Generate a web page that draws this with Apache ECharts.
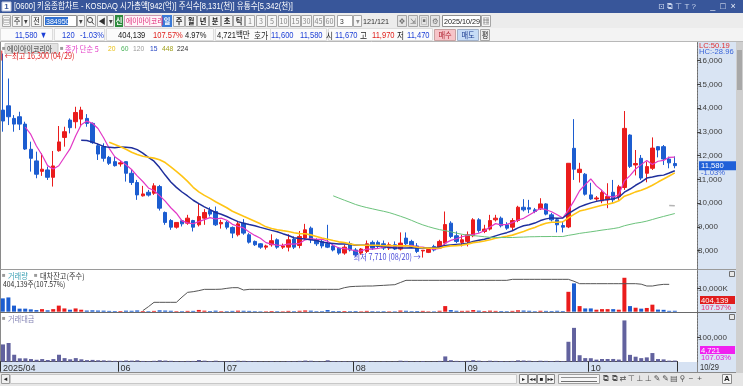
<!DOCTYPE html>
<html><head><meta charset="utf-8">
<script src="https://cdn.jsdelivr.net/npm/echarts@6/dist/echarts.min.js"></script>
<style>html,body{margin:0;padding:0;background:#fff;}#c{width:743px;height:386px;}</style>
</head><body><div id="c"></div>
<script>
// ---------- DATA ----------
const monthDays = [
  ['2025/04',[29,30]],
  ['2025/05',[2,7,8,9,12,13,14,15,16,19,20,21,22,23,26,27,28,29,30]],
  ['2025/06',[2,4,5,9,10,11,12,13,16,17,18,19,20,23,24,25,26,27,30]],
  ['2025/07',[1,2,3,4,7,8,9,10,11,14,15,16,17,18,21,22,23,24,25,28,29,30,31]],
  ['2025/08',[1,4,5,6,7,8,11,12,13,14,18,19,20,21,22,25,26,27,28,29]],
  ['2025/09',[1,2,3,4,5,8,9,10,11,12,15,16,17,18,19,22,23,24,25,26,29,30]],
  ['2025/10',[1,2,10,13,14,15,16,17,20,21,22,23,24,27,28,29]]
];
const open = [13920,14100,13570,13640,13330,12270,11780,11340,11400,11090,
12210,12770,13500,13430,13540,13570,13360,12420,12380,11930,
11750,11650,11750,11260,10870,10310,10460,10420,10700,9610,
9270,8990,9260,9160,9270,9090,9370,9690,9650,9130,
9190,8980,8670,9160,8670,8390,8290,8150,8250,8460,
8150,8150,8490,8220,8530,8950,8460,8390,8290,8200,
8110,7900,8290,8030,7900,7970,8350,8350,8290,8110,
8250,8070,8530,8390,8200,7990,7930,8180,8110,8320,
9160,8630,8350,8390,8630,9300,8810,8910,9300,9370,
9090,8990,9270,9830,9810,9720,9760,9970,9510,9300,
9060,9000,12310,11290,11220,10350,10180,10100,10140,10460,
10270,10660,12870,11610,11890,11260,11470,12380,12380,11860,
11670];
const high = [16300,15250,13710,13850,13430,12590,12170,12100,11540,12200,
13250,13220,13570,14060,14060,13750,13400,12520,12520,11990,
11960,11800,11750,11400,10980,10730,10560,10840,10770,9650,
9330,9190,9300,9510,9300,10000,9750,9830,9860,9300,
9250,9020,9250,9330,8740,8430,8320,8250,8690,8520,
8300,8690,8600,8830,9130,9020,8520,8460,9090,8290,
8150,8250,8390,8110,8110,8430,8430,8430,8430,8350,
8390,8770,8770,8460,8320,8020,8110,8250,8460,9650,
9240,8810,8670,8810,9370,9370,9090,9510,9510,9440,
9200,9370,9890,10170,10140,9800,10210,10000,9590,9370,
9240,11680,13540,11700,11270,10860,10300,10560,10840,10980,
10770,13880,12900,12240,12030,11750,12770,12400,12450,11960,
11970];
const low = [13010,13290,13010,13080,12240,11330,11050,11150,10980,10700,
12170,12380,12940,13150,13220,13220,12500,11820,11750,11610,
11540,11540,10910,10770,10140,10280,10280,10350,9690,9090,
8880,8930,9020,9090,8810,9020,9090,9440,9040,8930,
8900,8530,8600,8670,8300,8200,8080,8050,8170,8080,
8070,7970,8070,8100,8460,8320,8200,8100,8110,7970,
7830,7830,7970,7750,7830,7900,8030,8110,8030,8030,
8030,8010,8180,8110,7900,7710,7900,7970,8070,8250,
8530,8320,8180,8180,8570,8760,8740,8850,9230,8980,
8880,8850,9200,9650,9580,9580,9720,9490,9230,8770,
8770,8950,10980,10870,10320,10140,10100,10000,9790,10000,
10140,10560,11480,11170,10980,10880,11400,11930,11610,11470,
11470];
const close = [13460,13640,13330,13330,12280,11890,11220,11430,11090,11570,
12580,13010,13180,13820,13920,13360,12550,12070,11890,11680,
11580,11700,11260,10870,10350,10390,10340,10730,9790,9190,
8990,9190,9130,9370,8990,9440,9610,9540,9090,9190,
8990,8740,9130,8740,8360,8250,8150,8200,8420,8150,
8200,8460,8150,8600,8880,8460,8290,8200,8150,8030,
7900,8150,8030,7820,8070,8290,8110,8180,8110,8250,
8070,8320,8290,8180,7970,8020,8050,8030,8390,9100,
8600,8390,8460,8670,9300,8850,8910,9270,9370,9050,
8950,9270,9830,9720,9750,9650,9970,9540,9300,9090,
8990,11680,11430,11430,10380,10180,10220,10450,10280,10140,
10690,13150,11550,11670,11060,11540,12320,12240,11860,11700,
11580];
const volume = [5700000,6100000,2600000,1300000,1300000,1000000,700000,1100000,600000,1100000,
2600000,1400000,850000,1400000,850000,500000,600000,500000,450000,350000,
300000,300000,450000,400000,550000,300000,250000,350000,600000,500000,
400000,250000,250000,350000,350000,750000,450000,300000,450000,250000,
250000,350000,450000,400000,350000,250000,200000,200000,300000,250000,
200000,350000,250000,400000,550000,450000,250000,250000,700000,300000,
300000,300000,250000,300000,200000,350000,250000,200000,250000,200000,
200000,500000,400000,250000,300000,350000,200000,200000,400000,2400000,
700000,400000,350000,400000,700000,450000,300000,450000,350000,300000,
250000,350000,600000,500000,400000,250000,400000,350000,300000,400000,
300000,8500000,12100000,2400000,1400000,1400000,850000,1100000,1100000,1100000,
850000,14500000,2400000,1700000,1300000,1600000,3000000,900000,800000,375700,
404139];
const tradeValue = [72000,78000,29000,14000,14000,11000,8000,11000,7000,11000,
29000,15000,10000,15000,10000,6500,7500,6000,5500,4200,
3500,3500,5000,4400,5700,3100,2600,3700,6000,4700,
3600,2300,2300,3200,3200,7100,4300,2900,4200,2300,
2300,3100,4000,3600,3000,2100,1650,1650,2500,2100,
1650,2900,2100,3400,4800,3900,2100,2100,6000,2500,
2400,2400,2000,2400,1600,2900,2000,1650,2000,1650,
1650,4200,3300,2000,2400,2800,1600,1600,3300,22000,
6200,3400,2900,3400,6300,4100,2700,4100,3300,2800,
2300,3200,5700,4900,3900,2400,4000,3400,2800,3600,
2700,83000,141000,27000,15000,14500,8700,11300,11300,11400,
8900,172000,28500,20800,14800,18000,36000,11000,9700,4411,
4721];
const lendingK = ['-','-','-','-','-','-','-','-','-','-','-','-','-','-','-','-','-','-','-','-','-','-','-','-','-',
25,120,225,225,225,225,225,350,464,480,
505,536,536,536,540,560,576,576,520,536,
536,536,536,536,536,536,536,536,536,536,
536,536,536,536,536,536,576,600,608,612,
616,616,625,632,640,648,700,752,752,752,
752,752,752,752,752,752,752,752,752,752,
752,752,752,752,752,752,776,776,776,776,
776,776,776,776,776,776,776,730,672,672,
672,672,672,672,672,672,672,672,672,660,
616,616,640,656,656,'-'];
const priceTicks = [8000,9000,10000,11000,12000,13000,14000,15000,16000];
const volumeTicks = [10000000];
const valueTicks = [100000];
const maPeriods = [5,15,20,60,120];

// ---------- BUILD ----------
const dates = [];
monthDays.forEach(([m,ds]) => ds.forEach(d => dates.push(m + '/' + String(d).padStart(2,'0'))));
const monthStart = new Set([0]);
for (let i = 1; i < dates.length; i++) if (dates[i].slice(0,7) !== dates[i-1].slice(0,7)) monthStart.add(i);
monthStart.delete(2); // May label not drawn (too close to first label)

function sma(n){ return close.map((v,i)=>{ if(i<n-1) return '-'; let s=0; for(let k=i-n+1;k<=i;k++) s+=close[k]; return +(s/n).toFixed(1); }); }

const RED='#ea1c1c', BLUE='#1c5dd0';
const F="'Liberation Sans','DejaVu Sans','Noto Sans CJK KR',sans-serif";
const FK="'Noto Sans CJK KR','Liberation Sans',sans-serif";
const fmt = v => v.toLocaleString('en-US');

const GW = 677.6, AX_OFF = 697 - GW;
const chart = echarts.init(document.getElementById('c'), null, {renderer:'canvas'});

const maColors = {5:'#e238c6',15:'#1f2f9c',20:'#ffc414',60:'#6cc37c',120:'#b4b4b4'};
const maWidths = {5:1.2,15:1.5,20:1.6,60:1,120:1.5};

const option = {
  animation:false,
  backgroundColor:'#ffffff',
  grid:[
    {left:0,width:GW,top:42,height:227},
    {left:0,width:GW,top:270,height:41.7},
    {left:0,width:GW,top:313,height:48.7}
  ],
  xAxis:[0,1,2].map(g=>({
    type:'category', gridIndex:g, data:dates, boundaryGap:true, show:g===2,
    axisLine:{show:g===2,lineStyle:{color:'#505050'}},
    axisTick:{show:g===2,length:10,interval:(i)=>monthStart.has(i),lineStyle:{color:'#303030'}},
    axisLabel:{show:g===2,interval:(i)=>monthStart.has(i),align:'left',margin:2,fontSize:9,fontFamily:F,color:'#303030',
      formatter:(v,i)=> i===0 ? v.slice(0,7) : v.slice(5,7)},
    splitLine:{show:false}
  })),
  yAxis:[
    {type:'value',gridIndex:0,position:'right',offset:AX_OFF,min:7229.5,max:16787,
     splitLine:{show:false},
     axisLine:{show:true,lineStyle:{color:'#6a6a6a',type:[1,2]}},
     axisTick:{show:true,length:3,customValues:priceTicks,lineStyle:{color:'#404040'}},
     axisLabel:{customValues:priceTicks,formatter:v=>fmt(v),color:'#404040',fontSize:8,fontFamily:F,margin:1}},
    {type:'value',gridIndex:1,position:'right',offset:AX_OFF,min:0,max:17820000,
     splitLine:{show:false},
     axisLine:{show:true,lineStyle:{color:'#6a6a6a',type:[1,2]}},
     axisTick:{show:true,length:3,customValues:volumeTicks,lineStyle:{color:'#404040'}},
     axisLabel:{customValues:volumeTicks,formatter:v=>fmt(v/1000)+'K',color:'#404040',fontSize:8,fontFamily:F,margin:1}},
    {type:'value',gridIndex:1,min:0,max:1000,show:false},
    {type:'value',gridIndex:2,position:'right',offset:AX_OFF,min:0,max:202900,
     splitLine:{show:false},
     axisLine:{show:true,lineStyle:{color:'#6a6a6a',type:[1,2]}},
     axisTick:{show:true,length:3,customValues:valueTicks,lineStyle:{color:'#404040'}},
     axisLabel:{customValues:valueTicks,formatter:v=>fmt(v),color:'#404040',fontSize:8,fontFamily:F,margin:1}}
  ],
  series:[
    {type:'candlestick',xAxisIndex:0,yAxisIndex:0,barWidth:4,z:2,
     data:dates.map((d,i)=>[open[i],close[i],low[i],high[i]]),
     itemStyle:{color:RED,color0:BLUE,borderColor:RED,borderColor0:BLUE,borderWidth:1}},
    ...maPeriods.map(n=>({type:'line',xAxisIndex:0,yAxisIndex:0,data:sma(n),showSymbol:false,symbol:'none',z:3,
      lineStyle:{color:maColors[n],width:maWidths[n]}})),
    {type:'bar',xAxisIndex:1,yAxisIndex:1,barWidth:4,z:2,
     data:volume.map((v,i)=>({value:v,itemStyle:{color: close[i]>=open[i]?RED:BLUE}}))},
    {type:'line',xAxisIndex:1,yAxisIndex:2,data:lendingK,showSymbol:false,symbol:'none',z:3,
     lineStyle:{color:'#555555',width:1}},
    {type:'bar',xAxisIndex:2,yAxisIndex:3,barWidth:4,z:2,data:tradeValue,itemStyle:{color:'#62629e'}}
  ]
};
chart.setOption(option);

// ---------- CHROME / ANNOTATIONS ----------
const els=[];
const R=(x,y,w,h,fill,stroke,z)=>els.push({type:'rect',silent:true,z:(z===undefined?-5:z),shape:{x,y,width:w,height:h},
  style:{fill:fill||'none',stroke:stroke||'none',lineWidth:1}});
const T=(x,y,s,fill,size,align,font,weight,z,sx)=>els.push({type:'text',silent:true,z:(z===undefined?30:z),x,y,
  scaleX:(sx===undefined?((font||F)===FK?0.9:0.84):sx),
  style:{text:s,fill:fill||'#222',font:`${weight||'normal'} ${size||9}px ${font||F}`,textAlign:align||'left',textVerticalAlign:'middle',align:align||'left',verticalAlign:'middle'}});
const L=(x1,y1,x2,y2,stroke,w,z)=>els.push({type:'line',silent:true,z:(z===undefined?25:z),shape:{x1,y1,x2,y2},style:{stroke,lineWidth:w||1}});

// backgrounds
R(0,42,697,320,'#ffffff',null,-20);
R(697,42,39,331,'#d9e4f3',null,-20);
R(736,42,7,331,'#cfcfcf',null,-20);
R(737,50,5,40,'#a8a8a8',null,-19);
L(0.5,42,0.5,362,'#8a8a8a',1,-15);
L(697.5,42,697.5,373,'#8a8a8a',1,-15);
L(0,269.5,736,269.5,'#9a9a9a',1,-15);
L(0,312.5,736,312.5,'#6a6a6a',1,-15);
// date strip
R(0,362,697,11,'#d6e2f3',null,-20);
L(0,372.5,736,372.5,'#8a8a8a',1,-15);
T(700,367.5,'10/29','#303030',9,'left');

// title bar
R(0,0,743,13,'#38569a',null,40);
R(2,2,9,9,'#ffffff','#c0c8e0',41);
T(6.5,6.8,'1','#38569a',8,'center',F,'bold',42,1);
T(14,6.8,'[0600] 키움종합차트 - KOSDAQ 시가총액[942(억)] 주식수[8,131(천)] 유통수[5,342(천)]','#ffffff',9,'left',F,'normal',42,0.84);
T(677,6.8,'⊡ ⧉ ⊤ T ?','#c8d4ec',8,'center',F,'normal',42,1);
T(723,6.8,'_  □  ×','#e8eef8',9,'center',F,'normal',42,1);

// toolbar
R(0,13,743,15,'#ececec',null,40);
const btn=(x,w,label,color,fill,bold)=>{R(x+0.5,15.5,w,11,fill||'#f6f6f6','#a6a6a6',41); if(label) T(x+0.5+w/2,21.3,label,color||'#202020',8,'center',FK,bold?'bold':'normal',42);};
btn(2,8,'▤','#404040');
btn(12,9,'주');
btn(22,7,'▾','#404040');
btn(31,10,'전');
R(43.5,15.5,33,11,'#ffffff','#8f8f8f',41); R(45,17,23,8,'#2f6fd0',null,42); T(46,21.3,'384950','#ffffff',8,'left',F,'normal',43,0.88);
btn(77,7,'▾','#404040');
btn(86,9,'',null); els.push({type:'circle',silent:true,z:43,shape:{cx:90,cy:20,r:2.5},style:{fill:'none',stroke:'#404040',lineWidth:1}}); L(92,22,94,24.5,'#404040',1,43);
btn(97,9,'◀','#303030'); btn(107,6,'▾','#404040');
R(115,15,8,12,'#2e8b3e',null,41); T(119,21.3,'신','#ffffff',8,'center',FK,'bold',42);
R(124.5,15.5,37,11,'#fff4f8','#c898b0',41); T(126,21.3,'에이아이코리','#e0287a',8,'left',FK,'normal',42,0.85);
R(162,15,10,12,'#3a7ad8',null,41); T(167,21.3,'일','#ffffff',8,'center',FK,'bold',42);
['주','월','년','분','초','틱'].forEach((s,k)=>btn(173+k*12,11,s,'#202020','#f3f3f3',true));
[['1',245,9],['3',256,9],['5',267,9],['10',278,10],['15',290,10],['30',301,10],['45',313,10],['60',324,10]].forEach(([s,x,w])=>btn(x,w,s,'#8a8a8a'));
R(337.5,15.5,15,11,'#ffffff','#a6a6a6',41); T(340,21.3,'3','#303030',8,'left',F,'normal',42);
btn(353,8,'▾','#909090');
T(363,21.3,'121/121','#303030',8,'left',F,'normal',42,0.9);
[397,408,419,430].forEach((x,k)=>btn(x,9,['✥','⇲','▣','⚙'][k],'#707070','#e4e4e4'));
R(442.5,15.5,38,11,'#ffffff','#8f8f8f',41); T(444,21.3,'2025/10/29','#202020',8,'left',F,'normal',42,0.9);
btn(481,9,'▦','#505050');

// info row
R(0,28,743,14,'#f3f3f3',null,40);
L(0,41.5,743,41.5,'#b8b8b8',1,41);
[[0,52],[54,50],[106,107],[215,56],[270,56],[328,104]].forEach(([x,w])=>R(x+0.5,28.5,w,12,'#fbfbfb','#dcdcdc',41));
const IY=35.2;
T(15,IY,'11,580 ▼','#1c3fd6',9,'left',F,'normal',42);
T(62,IY,'120','#1c3fd6',9,'left',F,'normal',42);
T(80,IY,'-1.03%','#1c3fd6',9,'left',F,'normal',42);
T(118,IY,'404,139','#202020',9,'left',F,'normal',42);
T(153,IY,'107.57%','#e0201c',9,'left',F,'normal',42);
T(185,IY,'4.97%','#202020',9,'left',F,'normal',42);
T(217,IY,'4,721백만','#202020',9,'left',F,'normal',42);
T(254,IY,'호가','#202020',9,'left',FK,'normal',42,0.85);
T(271,IY,'11,600','#1c3fd6',9,'left',F,'normal',42);
T(300,IY,'11,580','#1c3fd6',9,'left',F,'normal',42);
T(326,IY,'시','#202020',9,'left',FK,'normal',42,0.85);
T(335,IY,'11,670','#1c3fd6',9,'left',F,'normal',42);
T(360,IY,'고','#202020',9,'left',FK,'normal',42,0.85);
T(372,IY,'11,970','#e0201c',9,'left',F,'normal',42);
T(397,IY,'저','#202020',9,'left',FK,'normal',42,0.85);
T(407,IY,'11,470','#1c3fd6',9,'left',F,'normal',42);
R(434.5,29.5,21,11,'#f6c4c8','#c8a0a0',41); T(445,IY,'매수','#b02030',8,'center',FK,'normal',42);
R(457.5,29.5,21,11,'#c6dcf6','#a0b0c8',41); T(468,IY,'매도','#1c3c90',8,'center',FK,'normal',42);
R(480.5,29.5,9,11,'#eeeeee','#a6a6a6',41); T(485,IY,'평','#202020',8,'center',FK,'normal',42);

// bottom bar
R(0,373,743,13,'#e6e6e6',null,-20);
R(10.5,374.5,506,9,'#f6f6f6','#c8c8c8',-19);
R(1.5,374.5,8,9,'#f0f0f0','#9a9a9a',-19); T(5.5,379,'◂','#202020',7,'center',F,'normal',30,1);
[['▸',519],['◂◂',528],['■',537],['▸▸',546]].forEach(([s,x])=>{R(x+0.5,374.5,8,9,'#f6f6f6','#8a8a8a',-19); T(x+4.5,379,s,'#202020',6,'center',F,'normal',30,1);});
R(558.5,374.5,41,9,'#f6f6f6','#a0a0a0',-19); L(561,381.5,597,381.5,'#707070',1,26); L(561,377.5,597,377.5,'#909090',1,26);
['⧉','⧉','⇄','⊤','⊥','⊥','✎','✎','▤','⚲','−','+'].forEach((s,k)=>T(606+k*8.5,379,s,'#505050',8,'center',F,'normal',30,1));
R(722.5,374.5,9,9,'#f6f6f6','#8a8a8a',-19); T(727,379,'A','#202020',8,'center',F,'bold',30,1);

// legend rows
T(2,48.5,'■','#9a9a9a',6,'left',F,'normal',30,1);
R(5,43.5,53,10,'#e2e2e2','#c8c8c8',20); T(7,48.5,'에이아이코리아','#404040',8,'left',FK,'normal',30,0.88);
T(60,48.5,'■','#9a9a9a',6,'left',F,'normal',30,1);
T(65,48.5,'종가 단순 5','#e238c6',8,'left',FK,'normal',30,0.9);
T(108,48.5,'20','#e8be10',8,'left'); T(121,48.5,'60','#4cb45c',8,'left'); T(133,48.5,'120','#9a9a9a',8,'left');
T(150,48.5,'15','#1f3fc0',8,'left'); T(162,48.5,'448','#a0a01c',8,'left'); T(177,48.5,'224','#303030',8,'left');

T(2,275.5,'■','#9a9a9a',6,'left',F,'normal',30,1); T(8,275.5,'거래량','#3aa0b4',8,'left',FK);
T(34,275.5,'■','#9a9a9a',6,'left',F,'normal',30,1); T(40,275.5,'대차잔고(주수)','#303030',8,'left',FK);
T(3,283.5,fmt(volume[120])+'주('+(volume[120]/volume[119]*100).toFixed(2)+'%)','#303030',8,'left',FK,'normal',30,0.85);
T(2,318.5,'■','#9a9a9a',6,'left',F,'normal',30,1); T(8,318.5,'거래대금','#8484b4',8,'left',FK);

// axis panel extras
T(699,45.5,'LC:50.19','#e03030',8,'left',F,'normal',30,0.95); T(699,52,'HC:-28.96','#3a64d8',8,'left',F,'normal',30,0.95);
R(729.5,271.5,5,5,'#e8e8e8','#707070',20); R(729.5,314.5,5,5,'#e8e8e8','#707070',20);
R(700,296,35,8,'#e01c1c',null,20); T(701,300.3,fmt(volume[120]),'#ffffff',8,'left',F,'normal',30,0.95);
T(701,308,(volume[120]/volume[119]*100).toFixed(2)+'%','#e8307a',8,'left',F,'normal',30,0.95);
R(700,346,35,8,'#f020f0',null,20); T(701,350.3,fmt(tradeValue[120]),'#ffffff',8,'left',F,'normal',30,0.95);
T(701,357.5,(tradeValue[120]/tradeValue[119]*100).toFixed(2)+'%','#e020e0',8,'left',F,'normal',30,0.95);

// price annotations via axis conversion
const last = close.length-1;
const py = chart.convertToPixel({yAxisIndex:0}, close[last]);
R(699,py-4.5,37,9,'#2060d8',null,20);
T(701,py+0.3,fmt(close[last]),'#ffffff',8,'left',F,'normal',30,0.95);
T(701,py+7.5,((close[last]-close[last-1])/close[last-1]*100).toFixed(2)+'%','#3a64d8',8,'left',F,'normal',30,0.95);

const hiV = Math.max(...high), hiI = high.indexOf(hiV);
const hp = chart.convertToPixel({xAxisIndex:0,yAxisIndex:0},[hiI,hiV]);
L(hp[0]-1,hp[1]-3,hp[0]-1,hp[1]+7,'#e02020',1,30);
T(hp[0]+2,hp[1]+2,'←최고 '+fmt(hiV)+' ('+dates[hiI].slice(5)+')','#e02020',8.5,'left',FK,'normal',30,0.85);
const loV = Math.min(...low), loI = low.indexOf(loV);
const lp = chart.convertToPixel({xAxisIndex:0,yAxisIndex:0},[loI,loV]);
T(lp[0]-2,lp[1]-0.5,'최저 '+fmt(loV)+' ('+dates[loI].slice(5)+') →','#4a4ad8',8.5,'right',FK,'normal',30,0.85);

chart.setOption({graphic:{elements:els}});
</script></body></html>
